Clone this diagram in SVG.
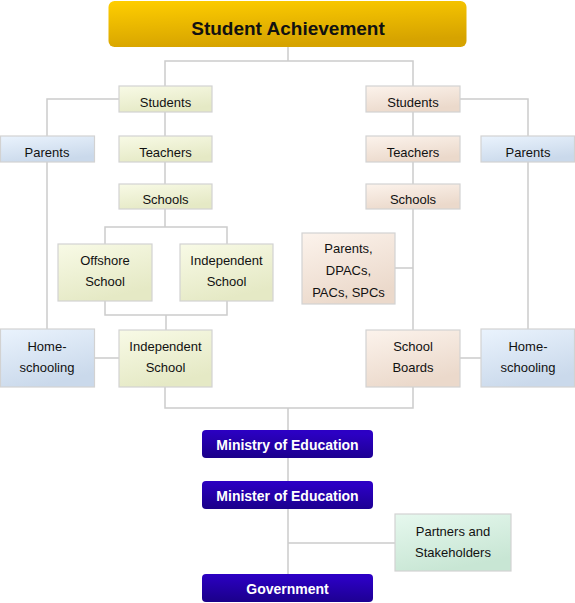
<svg xmlns="http://www.w3.org/2000/svg" width="575" height="603" viewBox="0 0 575 603">
<defs>
<linearGradient id="gGold" x1="0" y1="0" x2="0.3" y2="1"><stop offset="0" stop-color="#FFCE00"/><stop offset="1" stop-color="#D6A300"/></linearGradient>
<linearGradient id="gGreen" x1="0" y1="0" x2="0.4" y2="1"><stop offset="0" stop-color="#F8FAE6"/><stop offset="1" stop-color="#E5E9C5"/></linearGradient>
<linearGradient id="gPeach" x1="0" y1="0" x2="0.4" y2="1"><stop offset="0" stop-color="#FCF3EC"/><stop offset="1" stop-color="#EBD9CB"/></linearGradient>
<linearGradient id="gBlue" x1="0" y1="0" x2="0.4" y2="1"><stop offset="0" stop-color="#EAF3FD"/><stop offset="1" stop-color="#CAD9EB"/></linearGradient>
<linearGradient id="gMint" x1="0" y1="0" x2="0.4" y2="1"><stop offset="0" stop-color="#E6F8EE"/><stop offset="1" stop-color="#C8E6D4"/></linearGradient>
<linearGradient id="gNavy" x1="0.2" y1="0" x2="0" y2="1"><stop offset="0" stop-color="#2C00C4"/><stop offset="1" stop-color="#1A0088"/></linearGradient>
</defs>
<style>
.ln{fill:none;stroke:#CCCCCC;stroke-width:1.5}
.bx{stroke:#D2D2D2;stroke-width:1.2}
.t{font-family:"Liberation Sans",Arial,sans-serif;font-size:13px;fill:#111;text-anchor:middle}
.tw{font-family:"Liberation Sans",Arial,sans-serif;font-size:14px;font-weight:bold;fill:#FFFFFF;text-anchor:middle}
.tt{font-family:"Liberation Sans",Arial,sans-serif;font-size:19px;font-weight:bold;fill:#111;text-anchor:middle}
</style>
<rect width="575" height="603" fill="#FFFFFF"/>
<g id="connectors">
<path class="ln" d="M288,46 V61 M165,86 V61 H413 V86"/>
<path class="ln" d="M119,99 H47 V136 M47,162 V329"/>
<path class="ln" d="M460,99 H528 V136 M528,162 V329"/>
<path class="ln" d="M165,112 V136 M165,162 V184 M165,209 V227 M105,244 V227 H227 V244"/>
<path class="ln" d="M105,301 V315 H227 V301 M166,315 V330"/>
<path class="ln" d="M413,112 V136 M413,162 V184 M413,209 V330 M395,268 H413"/>
<path class="ln" d="M94,358 H119 M460,358 H481"/>
<path class="ln" d="M165,387 V408 H413 V387 M288,408 V430 M288,458 V481 M288,509 V574 M288,543 H395"/>
</g>
<g id="student-achievement"><rect x="108.5" y="1" width="358" height="46" rx="6" fill="url(#gGold)"/><text class="tt" x="288" y="35">Student Achievement</text></g>
<g id="students-left"><rect class="bx" x="119" y="86" width="93" height="26" fill="url(#gGreen)"/><text class="t" x="165.5" y="106.5">Students</text></g>
<g id="students-right"><rect class="bx" x="366" y="86" width="94" height="26" fill="url(#gPeach)"/><text class="t" x="413" y="106.5">Students</text></g>
<g id="parents-left"><rect class="bx" x="0.5" y="136" width="94" height="26" fill="url(#gBlue)"/><text class="t" x="47" y="156.5">Parents</text></g>
<g id="teachers-left"><rect class="bx" x="119" y="136" width="93" height="26" fill="url(#gGreen)"/><text class="t" x="165.5" y="156.5">Teachers</text></g>
<g id="teachers-right"><rect class="bx" x="366" y="136" width="94" height="26" fill="url(#gPeach)"/><text class="t" x="413" y="156.5">Teachers</text></g>
<g id="parents-right"><rect class="bx" x="481" y="136" width="93.5" height="26" fill="url(#gBlue)"/><text class="t" x="528" y="156.5">Parents</text></g>
<g id="schools-left"><rect class="bx" x="119" y="184" width="93" height="25" fill="url(#gGreen)"/><text class="t" x="165.5" y="204">Schools</text></g>
<g id="schools-right"><rect class="bx" x="366" y="184" width="94" height="25" fill="url(#gPeach)"/><text class="t" x="413" y="204">Schools</text></g>
<g id="offshore-school"><rect class="bx" x="58" y="244" width="94" height="57" fill="url(#gGreen)"/><text class="t" x="105" y="264.5">Offshore</text><text class="t" x="105" y="286">School</text></g>
<g id="independent-school-top"><rect class="bx" x="180" y="244" width="93" height="57" fill="url(#gGreen)"/><text class="t" x="226.5" y="264.5">Independent</text><text class="t" x="226.5" y="286">School</text></g>
<g id="parents-dpacs"><rect class="bx" x="302" y="233" width="93" height="71" fill="url(#gPeach)"/><text class="t" x="348.5" y="253">Parents,</text><text class="t" x="348.5" y="275">DPACs,</text><text class="t" x="348.5" y="297">PACs, SPCs</text></g>
<g id="homeschooling-left"><rect class="bx" x="0.5" y="329" width="94" height="58" fill="url(#gBlue)"/><text class="t" x="47" y="351">Home-</text><text class="t" x="47" y="372">schooling</text></g>
<g id="independent-school"><rect class="bx" x="119" y="330" width="93" height="57" fill="url(#gGreen)"/><text class="t" x="165.5" y="351">Independent</text><text class="t" x="165.5" y="372">School</text></g>
<g id="school-boards"><rect class="bx" x="366" y="330" width="94" height="57" fill="url(#gPeach)"/><text class="t" x="413" y="351">School</text><text class="t" x="413" y="372">Boards</text></g>
<g id="homeschooling-right"><rect class="bx" x="481" y="329" width="93.5" height="58" fill="url(#gBlue)"/><text class="t" x="528" y="351">Home-</text><text class="t" x="528" y="372">schooling</text></g>
<g id="ministry"><rect x="202" y="430" width="171" height="28" rx="4" fill="url(#gNavy)"/><text class="tw" x="287.5" y="450">Ministry of Education</text></g>
<g id="minister"><rect x="202" y="481" width="171" height="28" rx="4" fill="url(#gNavy)"/><text class="tw" x="287.5" y="501">Minister of Education</text></g>
<g id="partners"><rect class="bx" x="395" y="514" width="116" height="57" fill="url(#gMint)"/><text class="t" x="453" y="536">Partners and</text><text class="t" x="453" y="557">Stakeholders</text></g>
<g id="government"><rect x="202" y="574" width="171" height="28" rx="4" fill="url(#gNavy)"/><text class="tw" x="287.5" y="594">Government</text></g>
</svg>
